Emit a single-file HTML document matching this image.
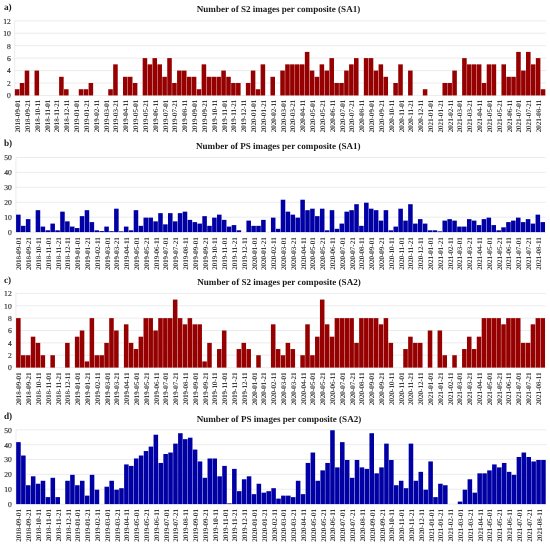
<!DOCTYPE html>
<html><head><meta charset="utf-8"><title>Number of images per composite</title>
<style>
html,body{margin:0;padding:0;background:#fff}
svg{display:block}
text{font-family:"Liberation Serif","DejaVu Serif",serif;fill:#1a1a1a;text-rendering:geometricPrecision}
.t{font-weight:bold;font-size:9.08px;text-anchor:middle}
.l{font-weight:bold;font-size:9.3px}
.y{font-size:7.6px;text-anchor:end;fill:#222;stroke:#222;stroke-width:0.12px}
.x{font-size:7.0px;text-anchor:end;fill:#111;stroke:#111;stroke-width:0.04px}
.g{stroke:#e7e7e7;stroke-width:0.8}
</style></head><body>
<svg width="550" height="545" viewBox="0 0 550 545">
<rect width="550" height="545" fill="#fff"/>
<text class="l" x="3.9" y="9.6">a)</text>
<text class="t" x="278.5" y="12.2">Number of S2 images per composite (SA1)</text>
<line class="g" x1="14.7" x2="546.0" y1="95.45" y2="95.45"/>
<text class="y" x="10.8" y="98.30">0</text>
<line class="g" x1="14.7" x2="546.0" y1="83.01" y2="83.01"/>
<text class="y" x="10.8" y="85.86">2</text>
<line class="g" x1="14.7" x2="546.0" y1="70.57" y2="70.57"/>
<text class="y" x="10.8" y="73.42">4</text>
<line class="g" x1="14.7" x2="546.0" y1="58.12" y2="58.12"/>
<text class="y" x="10.8" y="60.98">6</text>
<line class="g" x1="14.7" x2="546.0" y1="45.68" y2="45.68"/>
<text class="y" x="10.8" y="48.53">8</text>
<line class="g" x1="14.7" x2="546.0" y1="33.24" y2="33.24"/>
<text class="y" x="10.8" y="36.09">10</text>
<line class="g" x1="14.7" x2="546.0" y1="20.80" y2="20.80"/>
<text class="y" x="10.8" y="23.65">12</text>
<line class="g" x1="14.7" x2="14.7" y1="20.8" y2="95.45"/>
<rect x="14.88" y="89.23" width="4.55" height="6.22" fill="#960000"/>
<rect x="19.79" y="83.01" width="4.55" height="12.44" fill="#960000"/>
<rect x="24.71" y="70.57" width="4.55" height="24.88" fill="#960000"/>
<rect x="34.54" y="70.57" width="4.55" height="24.88" fill="#960000"/>
<rect x="59.11" y="76.79" width="4.55" height="18.66" fill="#960000"/>
<rect x="64.03" y="89.23" width="4.55" height="6.22" fill="#960000"/>
<rect x="78.77" y="89.23" width="4.55" height="6.22" fill="#960000"/>
<rect x="83.69" y="89.23" width="4.55" height="6.22" fill="#960000"/>
<rect x="88.60" y="83.01" width="4.55" height="12.44" fill="#960000"/>
<rect x="108.26" y="89.23" width="4.55" height="6.22" fill="#960000"/>
<rect x="113.18" y="64.35" width="4.55" height="31.10" fill="#960000"/>
<rect x="123.01" y="76.79" width="4.55" height="18.66" fill="#960000"/>
<rect x="127.92" y="76.79" width="4.55" height="18.66" fill="#960000"/>
<rect x="132.84" y="83.01" width="4.55" height="12.44" fill="#960000"/>
<rect x="142.67" y="58.12" width="4.55" height="37.33" fill="#960000"/>
<rect x="147.58" y="64.35" width="4.55" height="31.10" fill="#960000"/>
<rect x="152.49" y="58.12" width="4.55" height="37.33" fill="#960000"/>
<rect x="157.41" y="64.35" width="4.55" height="31.10" fill="#960000"/>
<rect x="162.32" y="76.79" width="4.55" height="18.66" fill="#960000"/>
<rect x="167.24" y="58.12" width="4.55" height="37.33" fill="#960000"/>
<rect x="172.15" y="83.01" width="4.55" height="12.44" fill="#960000"/>
<rect x="177.07" y="70.57" width="4.55" height="24.88" fill="#960000"/>
<rect x="181.98" y="70.57" width="4.55" height="24.88" fill="#960000"/>
<rect x="186.90" y="76.79" width="4.55" height="18.66" fill="#960000"/>
<rect x="191.81" y="76.79" width="4.55" height="18.66" fill="#960000"/>
<rect x="196.73" y="89.23" width="4.55" height="6.22" fill="#960000"/>
<rect x="201.64" y="64.35" width="4.55" height="31.10" fill="#960000"/>
<rect x="206.56" y="76.79" width="4.55" height="18.66" fill="#960000"/>
<rect x="211.47" y="76.79" width="4.55" height="18.66" fill="#960000"/>
<rect x="216.39" y="76.79" width="4.55" height="18.66" fill="#960000"/>
<rect x="221.30" y="70.57" width="4.55" height="24.88" fill="#960000"/>
<rect x="226.22" y="76.79" width="4.55" height="18.66" fill="#960000"/>
<rect x="231.13" y="83.01" width="4.55" height="12.44" fill="#960000"/>
<rect x="236.05" y="83.01" width="4.55" height="12.44" fill="#960000"/>
<rect x="245.88" y="83.01" width="4.55" height="12.44" fill="#960000"/>
<rect x="250.79" y="70.57" width="4.55" height="24.88" fill="#960000"/>
<rect x="255.71" y="89.23" width="4.55" height="6.22" fill="#960000"/>
<rect x="260.62" y="64.35" width="4.55" height="31.10" fill="#960000"/>
<rect x="270.45" y="76.79" width="4.55" height="18.66" fill="#960000"/>
<rect x="280.28" y="70.57" width="4.55" height="24.88" fill="#960000"/>
<rect x="285.19" y="64.35" width="4.55" height="31.10" fill="#960000"/>
<rect x="290.11" y="64.35" width="4.55" height="31.10" fill="#960000"/>
<rect x="295.02" y="64.35" width="4.55" height="31.10" fill="#960000"/>
<rect x="299.94" y="64.35" width="4.55" height="31.10" fill="#960000"/>
<rect x="304.85" y="51.90" width="4.55" height="43.55" fill="#960000"/>
<rect x="309.77" y="70.57" width="4.55" height="24.88" fill="#960000"/>
<rect x="314.68" y="76.79" width="4.55" height="18.66" fill="#960000"/>
<rect x="319.60" y="64.35" width="4.55" height="31.10" fill="#960000"/>
<rect x="324.51" y="70.57" width="4.55" height="24.88" fill="#960000"/>
<rect x="329.43" y="58.12" width="4.55" height="37.33" fill="#960000"/>
<rect x="334.34" y="83.01" width="4.55" height="12.44" fill="#960000"/>
<rect x="339.26" y="83.01" width="4.55" height="12.44" fill="#960000"/>
<rect x="344.17" y="70.57" width="4.55" height="24.88" fill="#960000"/>
<rect x="349.09" y="64.35" width="4.55" height="31.10" fill="#960000"/>
<rect x="354.00" y="58.12" width="4.55" height="37.33" fill="#960000"/>
<rect x="363.83" y="58.12" width="4.55" height="37.33" fill="#960000"/>
<rect x="368.75" y="58.12" width="4.55" height="37.33" fill="#960000"/>
<rect x="373.66" y="70.57" width="4.55" height="24.88" fill="#960000"/>
<rect x="378.58" y="64.35" width="4.55" height="31.10" fill="#960000"/>
<rect x="383.49" y="76.79" width="4.55" height="18.66" fill="#960000"/>
<rect x="393.32" y="83.01" width="4.55" height="12.44" fill="#960000"/>
<rect x="398.24" y="64.35" width="4.55" height="31.10" fill="#960000"/>
<rect x="408.07" y="70.57" width="4.55" height="24.88" fill="#960000"/>
<rect x="422.81" y="89.23" width="4.55" height="6.22" fill="#960000"/>
<rect x="442.47" y="83.01" width="4.55" height="12.44" fill="#960000"/>
<rect x="447.38" y="83.01" width="4.55" height="12.44" fill="#960000"/>
<rect x="452.30" y="70.57" width="4.55" height="24.88" fill="#960000"/>
<rect x="462.13" y="58.12" width="4.55" height="37.33" fill="#960000"/>
<rect x="467.04" y="64.35" width="4.55" height="31.10" fill="#960000"/>
<rect x="471.96" y="64.35" width="4.55" height="31.10" fill="#960000"/>
<rect x="476.87" y="64.35" width="4.55" height="31.10" fill="#960000"/>
<rect x="481.79" y="83.01" width="4.55" height="12.44" fill="#960000"/>
<rect x="486.70" y="64.35" width="4.55" height="31.10" fill="#960000"/>
<rect x="491.62" y="64.35" width="4.55" height="31.10" fill="#960000"/>
<rect x="501.45" y="64.35" width="4.55" height="31.10" fill="#960000"/>
<rect x="506.36" y="76.79" width="4.55" height="18.66" fill="#960000"/>
<rect x="511.28" y="76.79" width="4.55" height="18.66" fill="#960000"/>
<rect x="516.19" y="51.90" width="4.55" height="43.55" fill="#960000"/>
<rect x="521.11" y="70.57" width="4.55" height="24.88" fill="#960000"/>
<rect x="526.02" y="51.90" width="4.55" height="43.55" fill="#960000"/>
<rect x="530.94" y="64.35" width="4.55" height="31.10" fill="#960000"/>
<rect x="535.85" y="58.12" width="4.55" height="37.33" fill="#960000"/>
<rect x="540.77" y="89.23" width="4.55" height="6.22" fill="#960000"/>
<text class="x" transform="translate(20.16,99.75) rotate(-90)">2018-09-01</text>
<text class="x" transform="translate(29.99,99.75) rotate(-90)">2018-09-21</text>
<text class="x" transform="translate(39.82,99.75) rotate(-90)">2018-10-11</text>
<text class="x" transform="translate(49.65,99.75) rotate(-90)">2018-11-01</text>
<text class="x" transform="translate(59.48,99.75) rotate(-90)">2018-11-21</text>
<text class="x" transform="translate(69.31,99.75) rotate(-90)">2018-12-11</text>
<text class="x" transform="translate(79.14,99.75) rotate(-90)">2019-01-01</text>
<text class="x" transform="translate(88.96,99.75) rotate(-90)">2019-01-21</text>
<text class="x" transform="translate(98.79,99.75) rotate(-90)">2019-02-11</text>
<text class="x" transform="translate(108.62,99.75) rotate(-90)">2019-03-01</text>
<text class="x" transform="translate(118.45,99.75) rotate(-90)">2019-03-21</text>
<text class="x" transform="translate(128.28,99.75) rotate(-90)">2019-04-11</text>
<text class="x" transform="translate(138.11,99.75) rotate(-90)">2019-05-01</text>
<text class="x" transform="translate(147.94,99.75) rotate(-90)">2019-05-21</text>
<text class="x" transform="translate(157.77,99.75) rotate(-90)">2019-06-11</text>
<text class="x" transform="translate(167.60,99.75) rotate(-90)">2019-07-01</text>
<text class="x" transform="translate(177.43,99.75) rotate(-90)">2019-07-21</text>
<text class="x" transform="translate(187.26,99.75) rotate(-90)">2019-08-11</text>
<text class="x" transform="translate(197.09,99.75) rotate(-90)">2019-09-01</text>
<text class="x" transform="translate(206.92,99.75) rotate(-90)">2019-09-21</text>
<text class="x" transform="translate(216.75,99.75) rotate(-90)">2019-10-11</text>
<text class="x" transform="translate(226.58,99.75) rotate(-90)">2019-11-01</text>
<text class="x" transform="translate(236.41,99.75) rotate(-90)">2019-11-21</text>
<text class="x" transform="translate(246.24,99.75) rotate(-90)">2019-12-11</text>
<text class="x" transform="translate(256.07,99.75) rotate(-90)">2020-01-01</text>
<text class="x" transform="translate(265.90,99.75) rotate(-90)">2020-01-21</text>
<text class="x" transform="translate(275.73,99.75) rotate(-90)">2020-02-11</text>
<text class="x" transform="translate(285.56,99.75) rotate(-90)">2020-03-01</text>
<text class="x" transform="translate(295.39,99.75) rotate(-90)">2020-03-21</text>
<text class="x" transform="translate(305.22,99.75) rotate(-90)">2020-04-11</text>
<text class="x" transform="translate(315.05,99.75) rotate(-90)">2020-05-01</text>
<text class="x" transform="translate(324.88,99.75) rotate(-90)">2020-05-21</text>
<text class="x" transform="translate(334.71,99.75) rotate(-90)">2020-06-11</text>
<text class="x" transform="translate(344.54,99.75) rotate(-90)">2020-07-01</text>
<text class="x" transform="translate(354.36,99.75) rotate(-90)">2020-07-21</text>
<text class="x" transform="translate(364.19,99.75) rotate(-90)">2020-08-11</text>
<text class="x" transform="translate(374.02,99.75) rotate(-90)">2020-09-01</text>
<text class="x" transform="translate(383.85,99.75) rotate(-90)">2020-09-21</text>
<text class="x" transform="translate(393.68,99.75) rotate(-90)">2020-10-11</text>
<text class="x" transform="translate(403.51,99.75) rotate(-90)">2020-11-01</text>
<text class="x" transform="translate(413.34,99.75) rotate(-90)">2020-11-21</text>
<text class="x" transform="translate(423.17,99.75) rotate(-90)">2020-12-11</text>
<text class="x" transform="translate(433.00,99.75) rotate(-90)">2021-01-01</text>
<text class="x" transform="translate(442.83,99.75) rotate(-90)">2021-01-21</text>
<text class="x" transform="translate(452.66,99.75) rotate(-90)">2021-02-11</text>
<text class="x" transform="translate(462.49,99.75) rotate(-90)">2021-03-01</text>
<text class="x" transform="translate(472.32,99.75) rotate(-90)">2021-03-21</text>
<text class="x" transform="translate(482.15,99.75) rotate(-90)">2021-04-11</text>
<text class="x" transform="translate(491.98,99.75) rotate(-90)">2021-05-01</text>
<text class="x" transform="translate(501.81,99.75) rotate(-90)">2021-05-21</text>
<text class="x" transform="translate(511.64,99.75) rotate(-90)">2021-06-11</text>
<text class="x" transform="translate(521.47,99.75) rotate(-90)">2021-07-01</text>
<text class="x" transform="translate(531.30,99.75) rotate(-90)">2021-07-21</text>
<text class="x" transform="translate(541.13,99.75) rotate(-90)">2021-08-11</text>
<text class="l" x="3.9" y="146.0">b)</text>
<text class="t" x="278.3" y="148.9">Number of PS images per composite (SA1)</text>
<line class="g" x1="15.9" x2="545.7" y1="232.10" y2="232.10"/>
<text class="y" x="11.8" y="234.95">0</text>
<line class="g" x1="15.9" x2="545.7" y1="217.18" y2="217.18"/>
<text class="y" x="11.8" y="220.03">10</text>
<line class="g" x1="15.9" x2="545.7" y1="202.26" y2="202.26"/>
<text class="y" x="11.8" y="205.11">20</text>
<line class="g" x1="15.9" x2="545.7" y1="187.34" y2="187.34"/>
<text class="y" x="11.8" y="190.19">30</text>
<line class="g" x1="15.9" x2="545.7" y1="172.42" y2="172.42"/>
<text class="y" x="11.8" y="175.27">40</text>
<line class="g" x1="15.9" x2="545.7" y1="157.50" y2="157.50"/>
<text class="y" x="11.8" y="160.35">50</text>
<line class="g" x1="15.9" x2="15.9" y1="157.5" y2="232.1"/>
<rect x="16.08" y="214.64" width="4.54" height="17.46" fill="#0000a4"/>
<rect x="20.98" y="225.83" width="4.54" height="6.27" fill="#0000a4"/>
<rect x="25.88" y="219.12" width="4.54" height="12.98" fill="#0000a4"/>
<rect x="35.68" y="210.17" width="4.54" height="21.93" fill="#0000a4"/>
<rect x="40.58" y="226.58" width="4.54" height="5.52" fill="#0000a4"/>
<rect x="45.49" y="230.31" width="4.54" height="1.79" fill="#0000a4"/>
<rect x="50.39" y="223.60" width="4.54" height="8.50" fill="#0000a4"/>
<rect x="55.29" y="230.31" width="4.54" height="1.79" fill="#0000a4"/>
<rect x="60.19" y="211.66" width="4.54" height="20.44" fill="#0000a4"/>
<rect x="65.09" y="221.36" width="4.54" height="10.74" fill="#0000a4"/>
<rect x="69.99" y="226.58" width="4.54" height="5.52" fill="#0000a4"/>
<rect x="74.89" y="228.07" width="4.54" height="4.03" fill="#0000a4"/>
<rect x="79.79" y="216.14" width="4.54" height="15.96" fill="#0000a4"/>
<rect x="84.69" y="210.17" width="4.54" height="21.93" fill="#0000a4"/>
<rect x="89.59" y="222.10" width="4.54" height="10.00" fill="#0000a4"/>
<rect x="94.49" y="230.31" width="4.54" height="1.79" fill="#0000a4"/>
<rect x="99.40" y="231.06" width="4.54" height="1.04" fill="#0000a4"/>
<rect x="104.30" y="226.58" width="4.54" height="5.52" fill="#0000a4"/>
<rect x="109.20" y="231.20" width="4.54" height="0.90" fill="#0000a4"/>
<rect x="114.10" y="208.68" width="4.54" height="23.42" fill="#0000a4"/>
<rect x="119.00" y="231.35" width="4.54" height="0.75" fill="#0000a4"/>
<rect x="123.90" y="226.58" width="4.54" height="5.52" fill="#0000a4"/>
<rect x="128.80" y="230.31" width="4.54" height="1.79" fill="#0000a4"/>
<rect x="133.70" y="210.17" width="4.54" height="21.93" fill="#0000a4"/>
<rect x="138.60" y="225.83" width="4.54" height="6.27" fill="#0000a4"/>
<rect x="143.50" y="217.63" width="4.54" height="14.47" fill="#0000a4"/>
<rect x="148.41" y="217.63" width="4.54" height="14.47" fill="#0000a4"/>
<rect x="153.31" y="221.36" width="4.54" height="10.74" fill="#0000a4"/>
<rect x="158.21" y="213.15" width="4.54" height="18.95" fill="#0000a4"/>
<rect x="163.11" y="224.34" width="4.54" height="7.76" fill="#0000a4"/>
<rect x="168.01" y="213.15" width="4.54" height="18.95" fill="#0000a4"/>
<rect x="172.91" y="221.36" width="4.54" height="10.74" fill="#0000a4"/>
<rect x="177.81" y="213.15" width="4.54" height="18.95" fill="#0000a4"/>
<rect x="182.71" y="211.66" width="4.54" height="20.44" fill="#0000a4"/>
<rect x="187.61" y="219.87" width="4.54" height="12.23" fill="#0000a4"/>
<rect x="192.51" y="222.10" width="4.54" height="10.00" fill="#0000a4"/>
<rect x="197.41" y="223.60" width="4.54" height="8.50" fill="#0000a4"/>
<rect x="202.32" y="216.14" width="4.54" height="15.96" fill="#0000a4"/>
<rect x="207.22" y="225.83" width="4.54" height="6.27" fill="#0000a4"/>
<rect x="212.12" y="217.63" width="4.54" height="14.47" fill="#0000a4"/>
<rect x="217.02" y="214.64" width="4.54" height="17.46" fill="#0000a4"/>
<rect x="221.92" y="219.87" width="4.54" height="12.23" fill="#0000a4"/>
<rect x="226.82" y="226.58" width="4.54" height="5.52" fill="#0000a4"/>
<rect x="231.72" y="225.09" width="4.54" height="7.01" fill="#0000a4"/>
<rect x="236.62" y="230.31" width="4.54" height="1.79" fill="#0000a4"/>
<rect x="246.42" y="220.61" width="4.54" height="11.49" fill="#0000a4"/>
<rect x="251.32" y="225.83" width="4.54" height="6.27" fill="#0000a4"/>
<rect x="256.23" y="225.83" width="4.54" height="6.27" fill="#0000a4"/>
<rect x="261.13" y="219.87" width="4.54" height="12.23" fill="#0000a4"/>
<rect x="270.93" y="217.63" width="4.54" height="14.47" fill="#0000a4"/>
<rect x="275.83" y="228.82" width="4.54" height="3.28" fill="#0000a4"/>
<rect x="280.73" y="199.72" width="4.54" height="32.38" fill="#0000a4"/>
<rect x="285.63" y="211.66" width="4.54" height="20.44" fill="#0000a4"/>
<rect x="290.53" y="214.64" width="4.54" height="17.46" fill="#0000a4"/>
<rect x="295.43" y="217.63" width="4.54" height="14.47" fill="#0000a4"/>
<rect x="300.33" y="199.72" width="4.54" height="32.38" fill="#0000a4"/>
<rect x="305.23" y="210.17" width="4.54" height="21.93" fill="#0000a4"/>
<rect x="310.14" y="208.68" width="4.54" height="23.42" fill="#0000a4"/>
<rect x="315.04" y="216.14" width="4.54" height="15.96" fill="#0000a4"/>
<rect x="319.94" y="208.68" width="4.54" height="23.42" fill="#0000a4"/>
<rect x="324.84" y="230.31" width="4.54" height="1.79" fill="#0000a4"/>
<rect x="329.74" y="210.17" width="4.54" height="21.93" fill="#0000a4"/>
<rect x="334.64" y="228.82" width="4.54" height="3.28" fill="#0000a4"/>
<rect x="339.54" y="223.60" width="4.54" height="8.50" fill="#0000a4"/>
<rect x="344.44" y="211.66" width="4.54" height="20.44" fill="#0000a4"/>
<rect x="349.34" y="210.17" width="4.54" height="21.93" fill="#0000a4"/>
<rect x="354.24" y="204.20" width="4.54" height="27.90" fill="#0000a4"/>
<rect x="359.14" y="225.83" width="4.54" height="6.27" fill="#0000a4"/>
<rect x="364.05" y="202.71" width="4.54" height="29.39" fill="#0000a4"/>
<rect x="368.95" y="208.68" width="4.54" height="23.42" fill="#0000a4"/>
<rect x="373.85" y="210.17" width="4.54" height="21.93" fill="#0000a4"/>
<rect x="378.75" y="220.61" width="4.54" height="11.49" fill="#0000a4"/>
<rect x="383.65" y="210.17" width="4.54" height="21.93" fill="#0000a4"/>
<rect x="388.55" y="230.31" width="4.54" height="1.79" fill="#0000a4"/>
<rect x="393.45" y="226.58" width="4.54" height="5.52" fill="#0000a4"/>
<rect x="398.35" y="208.68" width="4.54" height="23.42" fill="#0000a4"/>
<rect x="403.25" y="220.61" width="4.54" height="11.49" fill="#0000a4"/>
<rect x="408.15" y="204.20" width="4.54" height="27.90" fill="#0000a4"/>
<rect x="413.06" y="223.60" width="4.54" height="8.50" fill="#0000a4"/>
<rect x="417.96" y="219.12" width="4.54" height="12.98" fill="#0000a4"/>
<rect x="422.86" y="223.60" width="4.54" height="8.50" fill="#0000a4"/>
<rect x="427.76" y="230.31" width="4.54" height="1.79" fill="#0000a4"/>
<rect x="432.66" y="230.31" width="4.54" height="1.79" fill="#0000a4"/>
<rect x="437.56" y="231.35" width="4.54" height="0.75" fill="#0000a4"/>
<rect x="442.46" y="220.61" width="4.54" height="11.49" fill="#0000a4"/>
<rect x="447.36" y="219.12" width="4.54" height="12.98" fill="#0000a4"/>
<rect x="452.26" y="220.61" width="4.54" height="11.49" fill="#0000a4"/>
<rect x="457.16" y="226.58" width="4.54" height="5.52" fill="#0000a4"/>
<rect x="462.06" y="226.58" width="4.54" height="5.52" fill="#0000a4"/>
<rect x="466.97" y="219.12" width="4.54" height="12.98" fill="#0000a4"/>
<rect x="471.87" y="220.61" width="4.54" height="11.49" fill="#0000a4"/>
<rect x="476.77" y="225.09" width="4.54" height="7.01" fill="#0000a4"/>
<rect x="481.67" y="219.12" width="4.54" height="12.98" fill="#0000a4"/>
<rect x="486.57" y="217.63" width="4.54" height="14.47" fill="#0000a4"/>
<rect x="491.47" y="225.09" width="4.54" height="7.01" fill="#0000a4"/>
<rect x="496.37" y="230.31" width="4.54" height="1.79" fill="#0000a4"/>
<rect x="501.27" y="227.33" width="4.54" height="4.77" fill="#0000a4"/>
<rect x="506.17" y="222.10" width="4.54" height="10.00" fill="#0000a4"/>
<rect x="511.07" y="220.61" width="4.54" height="11.49" fill="#0000a4"/>
<rect x="515.97" y="217.63" width="4.54" height="14.47" fill="#0000a4"/>
<rect x="520.88" y="222.10" width="4.54" height="10.00" fill="#0000a4"/>
<rect x="525.78" y="219.12" width="4.54" height="12.98" fill="#0000a4"/>
<rect x="530.68" y="223.60" width="4.54" height="8.50" fill="#0000a4"/>
<rect x="535.58" y="214.64" width="4.54" height="17.46" fill="#0000a4"/>
<rect x="540.48" y="222.10" width="4.54" height="10.00" fill="#0000a4"/>
<text class="x" transform="translate(21.35,237.30) rotate(-90)">2018-09-01</text>
<text class="x" transform="translate(31.15,237.30) rotate(-90)">2018-09-21</text>
<text class="x" transform="translate(40.95,237.30) rotate(-90)">2018-10-11</text>
<text class="x" transform="translate(50.76,237.30) rotate(-90)">2018-11-01</text>
<text class="x" transform="translate(60.56,237.30) rotate(-90)">2018-11-21</text>
<text class="x" transform="translate(70.36,237.30) rotate(-90)">2018-12-11</text>
<text class="x" transform="translate(80.16,237.30) rotate(-90)">2019-01-01</text>
<text class="x" transform="translate(89.96,237.30) rotate(-90)">2019-01-21</text>
<text class="x" transform="translate(99.77,237.30) rotate(-90)">2019-02-11</text>
<text class="x" transform="translate(109.57,237.30) rotate(-90)">2019-03-01</text>
<text class="x" transform="translate(119.37,237.30) rotate(-90)">2019-03-21</text>
<text class="x" transform="translate(129.17,237.30) rotate(-90)">2019-04-11</text>
<text class="x" transform="translate(138.97,237.30) rotate(-90)">2019-05-01</text>
<text class="x" transform="translate(148.77,237.30) rotate(-90)">2019-05-21</text>
<text class="x" transform="translate(158.58,237.30) rotate(-90)">2019-06-11</text>
<text class="x" transform="translate(168.38,237.30) rotate(-90)">2019-07-01</text>
<text class="x" transform="translate(178.18,237.30) rotate(-90)">2019-07-21</text>
<text class="x" transform="translate(187.98,237.30) rotate(-90)">2019-08-11</text>
<text class="x" transform="translate(197.78,237.30) rotate(-90)">2019-09-01</text>
<text class="x" transform="translate(207.59,237.30) rotate(-90)">2019-09-21</text>
<text class="x" transform="translate(217.39,237.30) rotate(-90)">2019-10-11</text>
<text class="x" transform="translate(227.19,237.30) rotate(-90)">2019-11-01</text>
<text class="x" transform="translate(236.99,237.30) rotate(-90)">2019-11-21</text>
<text class="x" transform="translate(246.79,237.30) rotate(-90)">2019-12-11</text>
<text class="x" transform="translate(256.59,237.30) rotate(-90)">2020-01-01</text>
<text class="x" transform="translate(266.40,237.30) rotate(-90)">2020-01-21</text>
<text class="x" transform="translate(276.20,237.30) rotate(-90)">2020-02-11</text>
<text class="x" transform="translate(286.00,237.30) rotate(-90)">2020-03-01</text>
<text class="x" transform="translate(295.80,237.30) rotate(-90)">2020-03-21</text>
<text class="x" transform="translate(305.60,237.30) rotate(-90)">2020-04-11</text>
<text class="x" transform="translate(315.41,237.30) rotate(-90)">2020-05-01</text>
<text class="x" transform="translate(325.21,237.30) rotate(-90)">2020-05-21</text>
<text class="x" transform="translate(335.01,237.30) rotate(-90)">2020-06-11</text>
<text class="x" transform="translate(344.81,237.30) rotate(-90)">2020-07-01</text>
<text class="x" transform="translate(354.61,237.30) rotate(-90)">2020-07-21</text>
<text class="x" transform="translate(364.42,237.30) rotate(-90)">2020-08-11</text>
<text class="x" transform="translate(374.22,237.30) rotate(-90)">2020-09-01</text>
<text class="x" transform="translate(384.02,237.30) rotate(-90)">2020-09-21</text>
<text class="x" transform="translate(393.82,237.30) rotate(-90)">2020-10-11</text>
<text class="x" transform="translate(403.62,237.30) rotate(-90)">2020-11-01</text>
<text class="x" transform="translate(413.42,237.30) rotate(-90)">2020-11-21</text>
<text class="x" transform="translate(423.23,237.30) rotate(-90)">2020-12-11</text>
<text class="x" transform="translate(433.03,237.30) rotate(-90)">2021-01-01</text>
<text class="x" transform="translate(442.83,237.30) rotate(-90)">2021-01-21</text>
<text class="x" transform="translate(452.63,237.30) rotate(-90)">2021-02-11</text>
<text class="x" transform="translate(462.43,237.30) rotate(-90)">2021-03-01</text>
<text class="x" transform="translate(472.24,237.30) rotate(-90)">2021-03-21</text>
<text class="x" transform="translate(482.04,237.30) rotate(-90)">2021-04-11</text>
<text class="x" transform="translate(491.84,237.30) rotate(-90)">2021-05-01</text>
<text class="x" transform="translate(501.64,237.30) rotate(-90)">2021-05-21</text>
<text class="x" transform="translate(511.44,237.30) rotate(-90)">2021-06-11</text>
<text class="x" transform="translate(521.24,237.30) rotate(-90)">2021-07-01</text>
<text class="x" transform="translate(531.05,237.30) rotate(-90)">2021-07-21</text>
<text class="x" transform="translate(540.85,237.30) rotate(-90)">2021-08-11</text>
<text class="l" x="3.9" y="282.8">c)</text>
<text class="t" x="279.0" y="285.0">Number of S2 images per composite (SA2)</text>
<line class="g" x1="15.9" x2="545.7" y1="367.60" y2="367.60"/>
<text class="y" x="11.7" y="370.45">0</text>
<line class="g" x1="15.9" x2="545.7" y1="355.23" y2="355.23"/>
<text class="y" x="11.7" y="358.08">2</text>
<line class="g" x1="15.9" x2="545.7" y1="342.87" y2="342.87"/>
<text class="y" x="11.7" y="345.72">4</text>
<line class="g" x1="15.9" x2="545.7" y1="330.50" y2="330.50"/>
<text class="y" x="11.7" y="333.35">6</text>
<line class="g" x1="15.9" x2="545.7" y1="318.13" y2="318.13"/>
<text class="y" x="11.7" y="320.98">8</text>
<line class="g" x1="15.9" x2="545.7" y1="305.77" y2="305.77"/>
<text class="y" x="11.7" y="308.62">10</text>
<line class="g" x1="15.9" x2="545.7" y1="293.40" y2="293.40"/>
<text class="y" x="11.7" y="296.25">12</text>
<line class="g" x1="15.9" x2="15.9" y1="293.4" y2="367.6"/>
<rect x="16.08" y="318.13" width="4.54" height="49.47" fill="#960000"/>
<rect x="20.98" y="355.23" width="4.54" height="12.37" fill="#960000"/>
<rect x="25.88" y="355.23" width="4.54" height="12.37" fill="#960000"/>
<rect x="30.78" y="336.68" width="4.54" height="30.92" fill="#960000"/>
<rect x="35.68" y="342.87" width="4.54" height="24.73" fill="#960000"/>
<rect x="40.58" y="355.23" width="4.54" height="12.37" fill="#960000"/>
<rect x="50.39" y="355.23" width="4.54" height="12.37" fill="#960000"/>
<rect x="65.09" y="342.87" width="4.54" height="24.73" fill="#960000"/>
<rect x="74.89" y="336.68" width="4.54" height="30.92" fill="#960000"/>
<rect x="79.79" y="330.50" width="4.54" height="37.10" fill="#960000"/>
<rect x="84.69" y="361.42" width="4.54" height="6.18" fill="#960000"/>
<rect x="89.59" y="318.13" width="4.54" height="49.47" fill="#960000"/>
<rect x="94.49" y="355.23" width="4.54" height="12.37" fill="#960000"/>
<rect x="99.40" y="355.23" width="4.54" height="12.37" fill="#960000"/>
<rect x="104.30" y="342.87" width="4.54" height="24.73" fill="#960000"/>
<rect x="109.20" y="318.13" width="4.54" height="49.47" fill="#960000"/>
<rect x="114.10" y="330.50" width="4.54" height="37.10" fill="#960000"/>
<rect x="123.90" y="324.32" width="4.54" height="43.28" fill="#960000"/>
<rect x="128.80" y="342.87" width="4.54" height="24.73" fill="#960000"/>
<rect x="133.70" y="349.05" width="4.54" height="18.55" fill="#960000"/>
<rect x="138.60" y="336.68" width="4.54" height="30.92" fill="#960000"/>
<rect x="143.50" y="318.13" width="4.54" height="49.47" fill="#960000"/>
<rect x="148.41" y="318.13" width="4.54" height="49.47" fill="#960000"/>
<rect x="153.31" y="330.50" width="4.54" height="37.10" fill="#960000"/>
<rect x="158.21" y="318.13" width="4.54" height="49.47" fill="#960000"/>
<rect x="163.11" y="318.13" width="4.54" height="49.47" fill="#960000"/>
<rect x="168.01" y="318.13" width="4.54" height="49.47" fill="#960000"/>
<rect x="172.91" y="299.58" width="4.54" height="68.02" fill="#960000"/>
<rect x="177.81" y="318.13" width="4.54" height="49.47" fill="#960000"/>
<rect x="182.71" y="324.32" width="4.54" height="43.28" fill="#960000"/>
<rect x="187.61" y="318.13" width="4.54" height="49.47" fill="#960000"/>
<rect x="192.51" y="324.32" width="4.54" height="43.28" fill="#960000"/>
<rect x="197.41" y="324.32" width="4.54" height="43.28" fill="#960000"/>
<rect x="202.32" y="361.42" width="4.54" height="6.18" fill="#960000"/>
<rect x="207.22" y="342.87" width="4.54" height="24.73" fill="#960000"/>
<rect x="217.02" y="349.05" width="4.54" height="18.55" fill="#960000"/>
<rect x="221.92" y="330.50" width="4.54" height="37.10" fill="#960000"/>
<rect x="236.62" y="349.05" width="4.54" height="18.55" fill="#960000"/>
<rect x="241.52" y="342.87" width="4.54" height="24.73" fill="#960000"/>
<rect x="246.42" y="349.05" width="4.54" height="18.55" fill="#960000"/>
<rect x="256.23" y="355.23" width="4.54" height="12.37" fill="#960000"/>
<rect x="270.93" y="324.32" width="4.54" height="43.28" fill="#960000"/>
<rect x="275.83" y="349.05" width="4.54" height="18.55" fill="#960000"/>
<rect x="280.73" y="355.23" width="4.54" height="12.37" fill="#960000"/>
<rect x="285.63" y="342.87" width="4.54" height="24.73" fill="#960000"/>
<rect x="290.53" y="349.05" width="4.54" height="18.55" fill="#960000"/>
<rect x="300.33" y="355.23" width="4.54" height="12.37" fill="#960000"/>
<rect x="305.23" y="324.32" width="4.54" height="43.28" fill="#960000"/>
<rect x="310.14" y="355.23" width="4.54" height="12.37" fill="#960000"/>
<rect x="315.04" y="336.68" width="4.54" height="30.92" fill="#960000"/>
<rect x="319.94" y="299.58" width="4.54" height="68.02" fill="#960000"/>
<rect x="324.84" y="324.32" width="4.54" height="43.28" fill="#960000"/>
<rect x="329.74" y="336.68" width="4.54" height="30.92" fill="#960000"/>
<rect x="334.64" y="318.13" width="4.54" height="49.47" fill="#960000"/>
<rect x="339.54" y="318.13" width="4.54" height="49.47" fill="#960000"/>
<rect x="344.44" y="318.13" width="4.54" height="49.47" fill="#960000"/>
<rect x="349.34" y="318.13" width="4.54" height="49.47" fill="#960000"/>
<rect x="354.24" y="342.87" width="4.54" height="24.73" fill="#960000"/>
<rect x="359.14" y="318.13" width="4.54" height="49.47" fill="#960000"/>
<rect x="364.05" y="318.13" width="4.54" height="49.47" fill="#960000"/>
<rect x="368.95" y="318.13" width="4.54" height="49.47" fill="#960000"/>
<rect x="373.85" y="318.13" width="4.54" height="49.47" fill="#960000"/>
<rect x="378.75" y="324.32" width="4.54" height="43.28" fill="#960000"/>
<rect x="383.65" y="318.13" width="4.54" height="49.47" fill="#960000"/>
<rect x="388.55" y="342.87" width="4.54" height="24.73" fill="#960000"/>
<rect x="403.25" y="349.05" width="4.54" height="18.55" fill="#960000"/>
<rect x="408.15" y="336.68" width="4.54" height="30.92" fill="#960000"/>
<rect x="413.06" y="342.87" width="4.54" height="24.73" fill="#960000"/>
<rect x="417.96" y="342.87" width="4.54" height="24.73" fill="#960000"/>
<rect x="427.76" y="330.50" width="4.54" height="37.10" fill="#960000"/>
<rect x="437.56" y="330.50" width="4.54" height="37.10" fill="#960000"/>
<rect x="442.46" y="355.23" width="4.54" height="12.37" fill="#960000"/>
<rect x="452.26" y="355.23" width="4.54" height="12.37" fill="#960000"/>
<rect x="462.06" y="349.05" width="4.54" height="18.55" fill="#960000"/>
<rect x="466.97" y="336.68" width="4.54" height="30.92" fill="#960000"/>
<rect x="471.87" y="349.05" width="4.54" height="18.55" fill="#960000"/>
<rect x="476.77" y="336.68" width="4.54" height="30.92" fill="#960000"/>
<rect x="481.67" y="318.13" width="4.54" height="49.47" fill="#960000"/>
<rect x="486.57" y="318.13" width="4.54" height="49.47" fill="#960000"/>
<rect x="491.47" y="318.13" width="4.54" height="49.47" fill="#960000"/>
<rect x="496.37" y="318.13" width="4.54" height="49.47" fill="#960000"/>
<rect x="501.27" y="324.32" width="4.54" height="43.28" fill="#960000"/>
<rect x="506.17" y="318.13" width="4.54" height="49.47" fill="#960000"/>
<rect x="511.07" y="318.13" width="4.54" height="49.47" fill="#960000"/>
<rect x="515.97" y="318.13" width="4.54" height="49.47" fill="#960000"/>
<rect x="520.88" y="342.87" width="4.54" height="24.73" fill="#960000"/>
<rect x="525.78" y="342.87" width="4.54" height="24.73" fill="#960000"/>
<rect x="530.68" y="324.32" width="4.54" height="43.28" fill="#960000"/>
<rect x="535.58" y="318.13" width="4.54" height="49.47" fill="#960000"/>
<rect x="540.48" y="318.13" width="4.54" height="49.47" fill="#960000"/>
<text class="x" transform="translate(21.35,372.50) rotate(-90)">2018-09-01</text>
<text class="x" transform="translate(31.15,372.50) rotate(-90)">2018-09-21</text>
<text class="x" transform="translate(40.95,372.50) rotate(-90)">2018-10-11</text>
<text class="x" transform="translate(50.76,372.50) rotate(-90)">2018-11-01</text>
<text class="x" transform="translate(60.56,372.50) rotate(-90)">2018-11-21</text>
<text class="x" transform="translate(70.36,372.50) rotate(-90)">2018-12-11</text>
<text class="x" transform="translate(80.16,372.50) rotate(-90)">2019-01-01</text>
<text class="x" transform="translate(89.96,372.50) rotate(-90)">2019-01-21</text>
<text class="x" transform="translate(99.77,372.50) rotate(-90)">2019-02-11</text>
<text class="x" transform="translate(109.57,372.50) rotate(-90)">2019-03-01</text>
<text class="x" transform="translate(119.37,372.50) rotate(-90)">2019-03-21</text>
<text class="x" transform="translate(129.17,372.50) rotate(-90)">2019-04-11</text>
<text class="x" transform="translate(138.97,372.50) rotate(-90)">2019-05-01</text>
<text class="x" transform="translate(148.77,372.50) rotate(-90)">2019-05-21</text>
<text class="x" transform="translate(158.58,372.50) rotate(-90)">2019-06-11</text>
<text class="x" transform="translate(168.38,372.50) rotate(-90)">2019-07-01</text>
<text class="x" transform="translate(178.18,372.50) rotate(-90)">2019-07-21</text>
<text class="x" transform="translate(187.98,372.50) rotate(-90)">2019-08-11</text>
<text class="x" transform="translate(197.78,372.50) rotate(-90)">2019-09-01</text>
<text class="x" transform="translate(207.59,372.50) rotate(-90)">2019-09-21</text>
<text class="x" transform="translate(217.39,372.50) rotate(-90)">2019-10-11</text>
<text class="x" transform="translate(227.19,372.50) rotate(-90)">2019-11-01</text>
<text class="x" transform="translate(236.99,372.50) rotate(-90)">2019-11-21</text>
<text class="x" transform="translate(246.79,372.50) rotate(-90)">2019-12-11</text>
<text class="x" transform="translate(256.59,372.50) rotate(-90)">2020-01-01</text>
<text class="x" transform="translate(266.40,372.50) rotate(-90)">2020-01-21</text>
<text class="x" transform="translate(276.20,372.50) rotate(-90)">2020-02-11</text>
<text class="x" transform="translate(286.00,372.50) rotate(-90)">2020-03-01</text>
<text class="x" transform="translate(295.80,372.50) rotate(-90)">2020-03-21</text>
<text class="x" transform="translate(305.60,372.50) rotate(-90)">2020-04-11</text>
<text class="x" transform="translate(315.41,372.50) rotate(-90)">2020-05-01</text>
<text class="x" transform="translate(325.21,372.50) rotate(-90)">2020-05-21</text>
<text class="x" transform="translate(335.01,372.50) rotate(-90)">2020-06-11</text>
<text class="x" transform="translate(344.81,372.50) rotate(-90)">2020-07-01</text>
<text class="x" transform="translate(354.61,372.50) rotate(-90)">2020-07-21</text>
<text class="x" transform="translate(364.42,372.50) rotate(-90)">2020-08-11</text>
<text class="x" transform="translate(374.22,372.50) rotate(-90)">2020-09-01</text>
<text class="x" transform="translate(384.02,372.50) rotate(-90)">2020-09-21</text>
<text class="x" transform="translate(393.82,372.50) rotate(-90)">2020-10-11</text>
<text class="x" transform="translate(403.62,372.50) rotate(-90)">2020-11-01</text>
<text class="x" transform="translate(413.42,372.50) rotate(-90)">2020-11-21</text>
<text class="x" transform="translate(423.23,372.50) rotate(-90)">2020-12-11</text>
<text class="x" transform="translate(433.03,372.50) rotate(-90)">2021-01-01</text>
<text class="x" transform="translate(442.83,372.50) rotate(-90)">2021-01-21</text>
<text class="x" transform="translate(452.63,372.50) rotate(-90)">2021-02-11</text>
<text class="x" transform="translate(462.43,372.50) rotate(-90)">2021-03-01</text>
<text class="x" transform="translate(472.24,372.50) rotate(-90)">2021-03-21</text>
<text class="x" transform="translate(482.04,372.50) rotate(-90)">2021-04-11</text>
<text class="x" transform="translate(491.84,372.50) rotate(-90)">2021-05-01</text>
<text class="x" transform="translate(501.64,372.50) rotate(-90)">2021-05-21</text>
<text class="x" transform="translate(511.44,372.50) rotate(-90)">2021-06-11</text>
<text class="x" transform="translate(521.24,372.50) rotate(-90)">2021-07-01</text>
<text class="x" transform="translate(531.05,372.50) rotate(-90)">2021-07-21</text>
<text class="x" transform="translate(540.85,372.50) rotate(-90)">2021-08-11</text>
<text class="l" x="3.9" y="418.7">d)</text>
<text class="t" x="279.0" y="421.5">Number of PS images per composite (SA2)</text>
<line class="g" x1="16.0" x2="546.4" y1="504.10" y2="504.10"/>
<text class="y" x="11.8" y="506.95">0</text>
<line class="g" x1="16.0" x2="546.4" y1="489.24" y2="489.24"/>
<text class="y" x="11.8" y="492.09">10</text>
<line class="g" x1="16.0" x2="546.4" y1="474.38" y2="474.38"/>
<text class="y" x="11.8" y="477.23">20</text>
<line class="g" x1="16.0" x2="546.4" y1="459.52" y2="459.52"/>
<text class="y" x="11.8" y="462.37">30</text>
<line class="g" x1="16.0" x2="546.4" y1="444.66" y2="444.66"/>
<text class="y" x="11.8" y="447.51">40</text>
<line class="g" x1="16.0" x2="546.4" y1="429.80" y2="429.80"/>
<text class="y" x="11.8" y="432.65">50</text>
<line class="g" x1="16.0" x2="16.0" y1="429.8" y2="504.1"/>
<rect x="16.18" y="442.13" width="4.55" height="61.97" fill="#0000a4"/>
<rect x="21.09" y="455.51" width="4.55" height="48.59" fill="#0000a4"/>
<rect x="25.99" y="485.23" width="4.55" height="18.87" fill="#0000a4"/>
<rect x="30.90" y="476.31" width="4.55" height="27.79" fill="#0000a4"/>
<rect x="35.81" y="483.74" width="4.55" height="20.36" fill="#0000a4"/>
<rect x="40.71" y="480.77" width="4.55" height="23.33" fill="#0000a4"/>
<rect x="45.62" y="497.12" width="4.55" height="6.98" fill="#0000a4"/>
<rect x="50.53" y="477.80" width="4.55" height="26.30" fill="#0000a4"/>
<rect x="55.43" y="497.12" width="4.55" height="6.98" fill="#0000a4"/>
<rect x="65.24" y="480.77" width="4.55" height="23.33" fill="#0000a4"/>
<rect x="70.15" y="474.83" width="4.55" height="29.27" fill="#0000a4"/>
<rect x="75.06" y="485.23" width="4.55" height="18.87" fill="#0000a4"/>
<rect x="79.96" y="480.77" width="4.55" height="23.33" fill="#0000a4"/>
<rect x="84.87" y="495.63" width="4.55" height="8.47" fill="#0000a4"/>
<rect x="89.78" y="474.83" width="4.55" height="29.27" fill="#0000a4"/>
<rect x="94.68" y="489.69" width="4.55" height="14.41" fill="#0000a4"/>
<rect x="104.50" y="486.71" width="4.55" height="17.39" fill="#0000a4"/>
<rect x="109.40" y="480.77" width="4.55" height="23.33" fill="#0000a4"/>
<rect x="114.31" y="489.69" width="4.55" height="14.41" fill="#0000a4"/>
<rect x="119.22" y="488.20" width="4.55" height="15.90" fill="#0000a4"/>
<rect x="124.12" y="464.42" width="4.55" height="39.68" fill="#0000a4"/>
<rect x="129.03" y="465.91" width="4.55" height="38.19" fill="#0000a4"/>
<rect x="133.94" y="458.48" width="4.55" height="45.62" fill="#0000a4"/>
<rect x="138.84" y="455.51" width="4.55" height="48.59" fill="#0000a4"/>
<rect x="143.75" y="451.05" width="4.55" height="53.05" fill="#0000a4"/>
<rect x="148.66" y="446.59" width="4.55" height="57.51" fill="#0000a4"/>
<rect x="153.56" y="434.70" width="4.55" height="69.40" fill="#0000a4"/>
<rect x="158.47" y="462.94" width="4.55" height="41.16" fill="#0000a4"/>
<rect x="163.37" y="454.02" width="4.55" height="50.08" fill="#0000a4"/>
<rect x="168.28" y="452.54" width="4.55" height="51.56" fill="#0000a4"/>
<rect x="173.19" y="443.62" width="4.55" height="60.48" fill="#0000a4"/>
<rect x="178.09" y="433.22" width="4.55" height="70.88" fill="#0000a4"/>
<rect x="183.00" y="439.16" width="4.55" height="64.94" fill="#0000a4"/>
<rect x="187.91" y="437.68" width="4.55" height="66.42" fill="#0000a4"/>
<rect x="192.81" y="449.56" width="4.55" height="54.54" fill="#0000a4"/>
<rect x="197.72" y="461.45" width="4.55" height="42.65" fill="#0000a4"/>
<rect x="202.63" y="477.80" width="4.55" height="26.30" fill="#0000a4"/>
<rect x="207.53" y="458.48" width="4.55" height="45.62" fill="#0000a4"/>
<rect x="212.44" y="458.48" width="4.55" height="45.62" fill="#0000a4"/>
<rect x="217.35" y="476.31" width="4.55" height="27.79" fill="#0000a4"/>
<rect x="222.25" y="465.91" width="4.55" height="38.19" fill="#0000a4"/>
<rect x="227.16" y="503.36" width="4.55" height="0.74" fill="#0000a4"/>
<rect x="232.07" y="468.88" width="4.55" height="35.22" fill="#0000a4"/>
<rect x="236.97" y="491.17" width="4.55" height="12.93" fill="#0000a4"/>
<rect x="241.88" y="479.28" width="4.55" height="24.82" fill="#0000a4"/>
<rect x="246.78" y="476.31" width="4.55" height="27.79" fill="#0000a4"/>
<rect x="251.69" y="494.14" width="4.55" height="9.96" fill="#0000a4"/>
<rect x="256.60" y="483.74" width="4.55" height="20.36" fill="#0000a4"/>
<rect x="261.50" y="492.66" width="4.55" height="11.44" fill="#0000a4"/>
<rect x="266.41" y="491.17" width="4.55" height="12.93" fill="#0000a4"/>
<rect x="271.32" y="488.20" width="4.55" height="15.90" fill="#0000a4"/>
<rect x="276.22" y="498.60" width="4.55" height="5.50" fill="#0000a4"/>
<rect x="281.13" y="495.63" width="4.55" height="8.47" fill="#0000a4"/>
<rect x="286.04" y="495.63" width="4.55" height="8.47" fill="#0000a4"/>
<rect x="290.94" y="497.12" width="4.55" height="6.98" fill="#0000a4"/>
<rect x="295.85" y="480.77" width="4.55" height="23.33" fill="#0000a4"/>
<rect x="300.76" y="494.14" width="4.55" height="9.96" fill="#0000a4"/>
<rect x="305.66" y="462.94" width="4.55" height="41.16" fill="#0000a4"/>
<rect x="310.57" y="452.54" width="4.55" height="51.56" fill="#0000a4"/>
<rect x="315.48" y="480.77" width="4.55" height="23.33" fill="#0000a4"/>
<rect x="320.38" y="470.37" width="4.55" height="33.73" fill="#0000a4"/>
<rect x="325.29" y="462.94" width="4.55" height="41.16" fill="#0000a4"/>
<rect x="330.19" y="430.25" width="4.55" height="73.85" fill="#0000a4"/>
<rect x="335.10" y="467.40" width="4.55" height="36.70" fill="#0000a4"/>
<rect x="340.01" y="442.13" width="4.55" height="61.97" fill="#0000a4"/>
<rect x="344.91" y="459.97" width="4.55" height="44.13" fill="#0000a4"/>
<rect x="349.82" y="477.80" width="4.55" height="26.30" fill="#0000a4"/>
<rect x="354.73" y="459.97" width="4.55" height="44.13" fill="#0000a4"/>
<rect x="359.63" y="467.40" width="4.55" height="36.70" fill="#0000a4"/>
<rect x="364.54" y="468.88" width="4.55" height="35.22" fill="#0000a4"/>
<rect x="369.45" y="433.22" width="4.55" height="70.88" fill="#0000a4"/>
<rect x="374.35" y="473.34" width="4.55" height="30.76" fill="#0000a4"/>
<rect x="379.26" y="467.40" width="4.55" height="36.70" fill="#0000a4"/>
<rect x="384.17" y="443.62" width="4.55" height="60.48" fill="#0000a4"/>
<rect x="389.07" y="459.97" width="4.55" height="44.13" fill="#0000a4"/>
<rect x="393.98" y="485.23" width="4.55" height="18.87" fill="#0000a4"/>
<rect x="398.89" y="480.77" width="4.55" height="23.33" fill="#0000a4"/>
<rect x="403.79" y="488.20" width="4.55" height="15.90" fill="#0000a4"/>
<rect x="408.70" y="443.62" width="4.55" height="60.48" fill="#0000a4"/>
<rect x="413.61" y="480.77" width="4.55" height="23.33" fill="#0000a4"/>
<rect x="418.51" y="471.85" width="4.55" height="32.25" fill="#0000a4"/>
<rect x="423.42" y="489.69" width="4.55" height="14.41" fill="#0000a4"/>
<rect x="428.32" y="461.45" width="4.55" height="42.65" fill="#0000a4"/>
<rect x="433.23" y="497.12" width="4.55" height="6.98" fill="#0000a4"/>
<rect x="438.14" y="483.74" width="4.55" height="20.36" fill="#0000a4"/>
<rect x="443.04" y="485.23" width="4.55" height="18.87" fill="#0000a4"/>
<rect x="457.76" y="501.57" width="4.55" height="2.53" fill="#0000a4"/>
<rect x="462.67" y="489.69" width="4.55" height="14.41" fill="#0000a4"/>
<rect x="467.58" y="479.28" width="4.55" height="24.82" fill="#0000a4"/>
<rect x="472.48" y="492.66" width="4.55" height="11.44" fill="#0000a4"/>
<rect x="477.39" y="473.34" width="4.55" height="30.76" fill="#0000a4"/>
<rect x="482.30" y="473.34" width="4.55" height="30.76" fill="#0000a4"/>
<rect x="487.20" y="470.37" width="4.55" height="33.73" fill="#0000a4"/>
<rect x="492.11" y="464.42" width="4.55" height="39.68" fill="#0000a4"/>
<rect x="497.02" y="467.40" width="4.55" height="36.70" fill="#0000a4"/>
<rect x="501.92" y="462.94" width="4.55" height="41.16" fill="#0000a4"/>
<rect x="506.83" y="471.85" width="4.55" height="32.25" fill="#0000a4"/>
<rect x="511.73" y="474.83" width="4.55" height="29.27" fill="#0000a4"/>
<rect x="516.64" y="456.99" width="4.55" height="47.11" fill="#0000a4"/>
<rect x="521.55" y="452.54" width="4.55" height="51.56" fill="#0000a4"/>
<rect x="526.45" y="456.99" width="4.55" height="47.11" fill="#0000a4"/>
<rect x="531.36" y="461.45" width="4.55" height="42.65" fill="#0000a4"/>
<rect x="536.27" y="459.97" width="4.55" height="44.13" fill="#0000a4"/>
<rect x="541.17" y="459.97" width="4.55" height="44.13" fill="#0000a4"/>
<text class="x" transform="translate(21.45,509.10) rotate(-90)">2018-09-01</text>
<text class="x" transform="translate(31.27,509.10) rotate(-90)">2018-09-21</text>
<text class="x" transform="translate(41.08,509.10) rotate(-90)">2018-10-11</text>
<text class="x" transform="translate(50.89,509.10) rotate(-90)">2018-11-01</text>
<text class="x" transform="translate(60.71,509.10) rotate(-90)">2018-11-21</text>
<text class="x" transform="translate(70.52,509.10) rotate(-90)">2018-12-11</text>
<text class="x" transform="translate(80.33,509.10) rotate(-90)">2019-01-01</text>
<text class="x" transform="translate(90.14,509.10) rotate(-90)">2019-01-21</text>
<text class="x" transform="translate(99.96,509.10) rotate(-90)">2019-02-11</text>
<text class="x" transform="translate(109.77,509.10) rotate(-90)">2019-03-01</text>
<text class="x" transform="translate(119.58,509.10) rotate(-90)">2019-03-21</text>
<text class="x" transform="translate(129.40,509.10) rotate(-90)">2019-04-11</text>
<text class="x" transform="translate(139.21,509.10) rotate(-90)">2019-05-01</text>
<text class="x" transform="translate(149.02,509.10) rotate(-90)">2019-05-21</text>
<text class="x" transform="translate(158.83,509.10) rotate(-90)">2019-06-11</text>
<text class="x" transform="translate(168.65,509.10) rotate(-90)">2019-07-01</text>
<text class="x" transform="translate(178.46,509.10) rotate(-90)">2019-07-21</text>
<text class="x" transform="translate(188.27,509.10) rotate(-90)">2019-08-11</text>
<text class="x" transform="translate(198.09,509.10) rotate(-90)">2019-09-01</text>
<text class="x" transform="translate(207.90,509.10) rotate(-90)">2019-09-21</text>
<text class="x" transform="translate(217.71,509.10) rotate(-90)">2019-10-11</text>
<text class="x" transform="translate(227.53,509.10) rotate(-90)">2019-11-01</text>
<text class="x" transform="translate(237.34,509.10) rotate(-90)">2019-11-21</text>
<text class="x" transform="translate(247.15,509.10) rotate(-90)">2019-12-11</text>
<text class="x" transform="translate(256.96,509.10) rotate(-90)">2020-01-01</text>
<text class="x" transform="translate(266.78,509.10) rotate(-90)">2020-01-21</text>
<text class="x" transform="translate(276.59,509.10) rotate(-90)">2020-02-11</text>
<text class="x" transform="translate(286.40,509.10) rotate(-90)">2020-03-01</text>
<text class="x" transform="translate(296.22,509.10) rotate(-90)">2020-03-21</text>
<text class="x" transform="translate(306.03,509.10) rotate(-90)">2020-04-11</text>
<text class="x" transform="translate(315.84,509.10) rotate(-90)">2020-05-01</text>
<text class="x" transform="translate(325.66,509.10) rotate(-90)">2020-05-21</text>
<text class="x" transform="translate(335.47,509.10) rotate(-90)">2020-06-11</text>
<text class="x" transform="translate(345.28,509.10) rotate(-90)">2020-07-01</text>
<text class="x" transform="translate(355.09,509.10) rotate(-90)">2020-07-21</text>
<text class="x" transform="translate(364.91,509.10) rotate(-90)">2020-08-11</text>
<text class="x" transform="translate(374.72,509.10) rotate(-90)">2020-09-01</text>
<text class="x" transform="translate(384.53,509.10) rotate(-90)">2020-09-21</text>
<text class="x" transform="translate(394.35,509.10) rotate(-90)">2020-10-11</text>
<text class="x" transform="translate(404.16,509.10) rotate(-90)">2020-11-01</text>
<text class="x" transform="translate(413.97,509.10) rotate(-90)">2020-11-21</text>
<text class="x" transform="translate(423.78,509.10) rotate(-90)">2020-12-11</text>
<text class="x" transform="translate(433.60,509.10) rotate(-90)">2021-01-01</text>
<text class="x" transform="translate(443.41,509.10) rotate(-90)">2021-01-21</text>
<text class="x" transform="translate(453.22,509.10) rotate(-90)">2021-02-11</text>
<text class="x" transform="translate(463.04,509.10) rotate(-90)">2021-03-01</text>
<text class="x" transform="translate(472.85,509.10) rotate(-90)">2021-03-21</text>
<text class="x" transform="translate(482.66,509.10) rotate(-90)">2021-04-11</text>
<text class="x" transform="translate(492.48,509.10) rotate(-90)">2021-05-01</text>
<text class="x" transform="translate(502.29,509.10) rotate(-90)">2021-05-21</text>
<text class="x" transform="translate(512.10,509.10) rotate(-90)">2021-06-11</text>
<text class="x" transform="translate(521.91,509.10) rotate(-90)">2021-07-01</text>
<text class="x" transform="translate(531.73,509.10) rotate(-90)">2021-07-21</text>
<text class="x" transform="translate(541.54,509.10) rotate(-90)">2021-08-11</text>
</svg></body></html>
